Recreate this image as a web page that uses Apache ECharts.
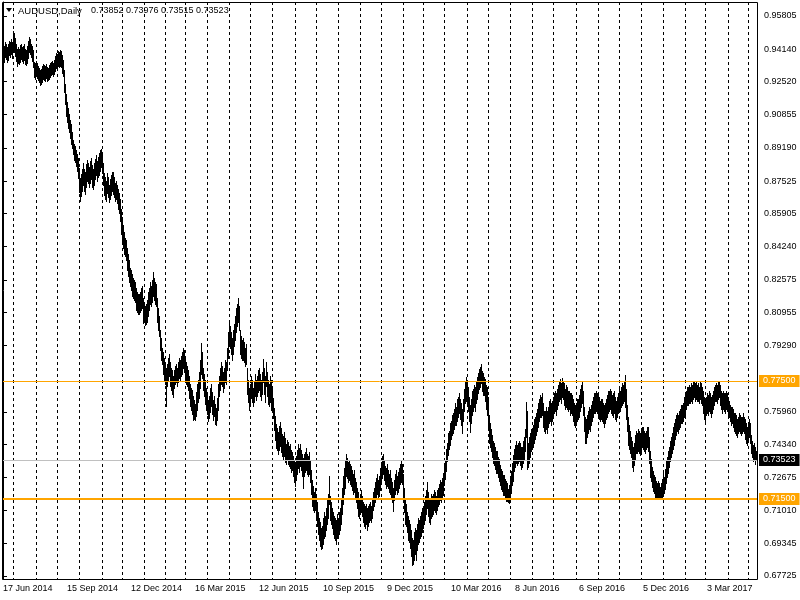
<!DOCTYPE html>
<html><head><meta charset="utf-8">
<script src="https://cdn.jsdelivr.net/npm/echarts@6/dist/echarts.min.js"></script>
<style>html,body{margin:0;padding:0;background:#fff}#c{width:800px;height:600px}</style>
</head><body><div id="c"></div>
<script>
// ---- data (prices in units of 0.0001) ----
const SYMBOL = 'AUDUSD,Daily';
const LAST_OHLC = ['0.73852', '0.73976', '0.73515', '0.73523'];
const HIGH_PIPS = [
9410,9430,9450,9440,9425,9440,9455,9450,9465,9450,
9505,9495,9470,9440,9415,9425,9415,9435,9440,9425,
9430,9440,9415,9410,9430,9455,9475,9465,9440,9430,
9410,9350,9345,9355,9345,9330,9320,9310,9315,9330,
9340,9335,9330,9340,9325,9320,9335,9345,9350,9355,
9345,9360,9380,9395,9390,9405,9400,9410,9405,9385,
9360,9310,9240,9190,9150,9120,9090,9060,9040,9000,
8960,8940,8930,8910,8890,8870,8820,8770,8790,8815,
8845,8815,8800,8840,8860,8845,8825,8855,8870,8835,
8815,8845,8865,8885,8855,8875,8895,8910,8915,8900,
8845,8795,8775,8755,8795,8775,8735,8765,8785,8800,
8800,8775,8745,8755,8735,8715,8695,8665,8615,8575,
8535,8495,8465,8455,8415,8385,8355,8315,8305,8285,
8265,8255,8245,8215,8195,8185,8185,8195,8215,8225,
8165,8145,8125,8135,8155,8195,8215,8245,8225,8255,
8295,8265,8245,8235,8165,8115,8075,8005,7965,7915,
7895,7865,7845,7815,7835,7865,7885,7845,7815,7805,
7775,7805,7825,7835,7815,7845,7865,7855,7875,7895,
7915,7905,7865,7845,7825,7805,7775,7735,7715,7705,
7675,7655,7635,7695,7735,7755,7795,7855,7940,7895,
7815,7785,7755,7715,7695,7655,7675,7715,7735,7695,
7655,7675,7635,7615,7665,7735,7775,7815,7845,7825,
7795,7815,7855,7845,7915,7995,8055,8025,7995,7965,
8005,8035,8075,8115,8135,8164,8125,8005,7975,7955,
7965,7945,7915,7935,7815,7755,7715,7735,7775,7755,
7715,7745,7785,7755,7775,7805,7815,7785,7755,7795,
7860,7815,7775,7845,7795,7755,7735,7775,7755,7715,
7665,7615,7575,7535,7515,7495,7525,7545,7515,7485,
7475,7495,7465,7435,7455,7445,7425,7435,7405,7395,
7375,7355,7345,7375,7405,7435,7415,7435,7405,7385,
7365,7385,7395,7415,7385,7375,7395,7355,7305,7255,
7225,7195,7215,7185,7145,7095,7065,7045,7015,7025,
7065,7095,7075,7115,7155,7185,7275,7175,7145,7115,
7095,7075,7065,7055,7085,7065,7095,7115,7155,7215,
7275,7315,7355,7385,7365,7345,7355,7335,7325,7305,
7285,7305,7265,7245,7215,7195,7165,7185,7205,7175,
7145,7135,7125,7135,7115,7125,7135,7145,7125,7165,
7195,7215,7245,7265,7285,7255,7275,7315,7345,7375,
7385,7355,7325,7315,7335,7305,7285,7305,7265,7245,
7215,7255,7285,7305,7275,7295,7315,7335,7355,7335,
7285,7215,7165,7135,7095,7075,7055,7035,7005,6965,
6955,6995,7015,7005,7035,7065,7055,7075,7095,7115,
7125,7145,7175,7205,7244,7195,7165,7155,7185,7175,
7185,7205,7195,7175,7205,7215,7235,7255,7245,7265,
7290,7340,7350,7410,7440,7490,7500,7540,7550,7580,
7590,7610,7640,7620,7660,7670,7690,7660,7640,7610,
7660,7710,7750,7770,7740,7720,7670,7630,7660,7700,
7710,7730,7720,7750,7770,7790,7810,7820,7835,7800,
7790,7770,7760,7730,7720,7670,7580,7540,7510,7480,
7450,7440,7420,7400,7400,7370,7360,7330,7310,7300,
7280,7280,7260,7250,7240,7210,7230,7260,7300,7340,
7380,7410,7430,7450,7430,7440,7450,7440,7420,7420,
7450,7470,7510,7645,7600,7440,7470,7490,7510,7500,
7530,7560,7570,7590,7610,7640,7660,7680,7670,7690,
7640,7600,7600,7620,7600,7620,7650,7660,7640,7650,
7670,7690,7700,7690,7710,7730,7750,7760,7740,7765,
7750,7740,7710,7730,7720,7700,7700,7690,7690,7680,
7660,7640,7630,7640,7660,7660,7680,7710,7730,7745,
7700,7620,7570,7560,7580,7600,7620,7610,7630,7650,
7670,7690,7690,7700,7690,7680,7670,7650,7660,7660,
7640,7630,7640,7660,7680,7700,7700,7710,7700,7680,
7690,7700,7670,7650,7670,7690,7710,7700,7720,7740,
7730,7750,7778,7710,7630,7570,7530,7500,7470,7450,
7420,7440,7480,7500,7490,7510,7500,7490,7500,7520,
7520,7500,7490,7500,7520,7520,7470,7400,7360,7320,
7300,7280,7270,7250,7240,7250,7240,7220,7240,7260,
7290,7270,7310,7350,7370,7400,7420,7450,7470,7490,
7520,7540,7560,7580,7590,7580,7600,7610,7630,7630,
7640,7670,7680,7700,7720,7720,7730,7720,7740,7730,
7745,7750,7740,7750,7730,7740,7720,7750,7740,7720,
7700,7670,7650,7670,7690,7680,7700,7690,7670,7680,
7700,7720,7730,7740,7730,7745,7749,7730,7700,7690,
7700,7690,7690,7700,7690,7670,7650,7630,7620,7620,
7610,7590,7590,7580,7560,7570,7590,7580,7570,7570,
7590,7570,7560,7540,7520,7530,7560,7540,7480,7450,
7430,7440,7420,7398
];
const LOW_PIPS = [
9320,9350,9375,9365,9350,9360,9385,9375,9390,9370,
9410,9400,9380,9355,9330,9345,9340,9350,9365,9355,
9345,9360,9340,9335,9345,9370,9400,9390,9375,9355,
9325,9275,9265,9285,9270,9260,9250,9235,9240,9250,
9265,9260,9255,9270,9255,9260,9265,9275,9285,9290,
9280,9290,9305,9320,9320,9330,9325,9330,9325,9295,
9280,9200,9140,9080,9050,9020,9000,8970,8940,8920,
8890,8860,8850,8830,8805,8770,8700,8655,8680,8705,
8735,8705,8690,8725,8755,8745,8725,8745,8765,8725,
8715,8735,8765,8785,8755,8775,8785,8805,8825,8795,
8735,8685,8665,8655,8695,8675,8650,8665,8685,8705,
8690,8675,8655,8665,8645,8615,8595,8555,8485,8435,
8415,8385,8375,8355,8305,8275,8245,8225,8205,8175,
8165,8155,8145,8105,8095,8085,8085,8095,8105,8115,
8040,8045,8030,8035,8045,8075,8105,8135,8125,8145,
8175,8155,8135,8125,8045,8005,7975,7905,7855,7835,
7785,7755,7735,7626,7725,7755,7775,7725,7705,7685,
7670,7715,7735,7745,7725,7745,7765,7755,7775,7785,
7815,7795,7755,7735,7725,7705,7665,7625,7605,7585,
7555,7560,7555,7575,7605,7645,7665,7715,7785,7765,
7705,7675,7635,7605,7585,7550,7565,7595,7625,7585,
7555,7575,7535,7530,7555,7605,7675,7705,7735,7725,
7695,7715,7745,7735,7805,7865,7925,7915,7885,7855,
7885,7925,7955,7995,8025,8045,8005,7885,7865,7855,
7855,7845,7825,7835,7685,7645,7605,7635,7665,7645,
7625,7645,7675,7655,7675,7695,7705,7675,7655,7685,
7745,7685,7645,7725,7675,7635,7625,7645,7605,7595,
7565,7505,7455,7415,7405,7385,7405,7425,7395,7375,
7355,7375,7345,7335,7355,7335,7325,7315,7295,7305,
7275,7245,7225,7255,7285,7315,7295,7325,7305,7275,
7215,7275,7295,7305,7285,7275,7285,7245,7185,7125,
7105,7095,7105,7065,7025,6985,6955,6925,6906,6915,
6935,6965,6975,7005,7035,7065,7135,7055,7035,7015,
6985,6965,6955,6935,6965,6975,6985,7005,7035,7085,
7135,7185,7215,7275,7265,7245,7255,7235,7225,7205,
7185,7195,7165,7145,7115,7075,7065,7085,7095,7075,
7045,7025,7015,7035,7005,7025,7045,7055,7045,7065,
7105,7125,7145,7165,7185,7165,7175,7205,7235,7265,
7285,7255,7235,7215,7225,7215,7195,7185,7165,7145,
7100,7155,7185,7205,7185,7195,7215,7235,7245,7235,
7165,7095,7035,7025,6995,6955,6945,6915,6875,6827,
6835,6855,6885,6855,6905,6935,6945,6965,6975,6995,
7015,7035,7055,7085,7115,7075,7045,7035,7065,7075,
7085,7105,7095,7085,7105,7125,7135,7155,7145,7165,
7180,7230,7260,7300,7350,7380,7410,7430,7460,7480,
7490,7510,7530,7530,7550,7570,7590,7560,7530,7490,
7550,7600,7640,7650,7640,7600,7550,7495,7540,7580,
7600,7620,7600,7640,7660,7690,7710,7720,7740,7700,
7680,7680,7650,7610,7580,7510,7440,7420,7400,7370,
7340,7330,7310,7290,7290,7270,7250,7230,7210,7200,
7180,7180,7160,7150,7150,7145,7140,7160,7190,7230,
7250,7300,7320,7340,7330,7340,7350,7330,7310,7320,
7340,7360,7400,7470,7310,7320,7340,7370,7400,7410,
7420,7440,7460,7480,7500,7520,7550,7570,7570,7580,
7520,7500,7490,7510,7490,7520,7540,7550,7530,7550,
7570,7590,7600,7580,7610,7630,7650,7660,7640,7670,
7660,7630,7610,7620,7610,7600,7610,7580,7590,7580,
7550,7530,7520,7530,7550,7560,7570,7600,7620,7640,
7580,7500,7440,7440,7470,7490,7510,7500,7530,7550,
7570,7590,7590,7600,7590,7570,7560,7550,7560,7550,
7540,7520,7540,7560,7570,7590,7600,7610,7590,7580,
7570,7590,7560,7550,7570,7590,7600,7600,7620,7630,
7640,7650,7620,7560,7500,7430,7410,7390,7370,7320,
7300,7330,7360,7390,7390,7400,7390,7380,7400,7420,
7410,7400,7390,7410,7420,7400,7340,7270,7250,7220,
7200,7190,7170,7160,7160,7170,7160,7160,7165,7170,
7180,7190,7210,7240,7270,7290,7320,7350,7370,7390,
7410,7430,7460,7480,7500,7490,7510,7520,7540,7540,
7550,7570,7580,7610,7630,7630,7640,7640,7650,7640,
7660,7670,7650,7660,7650,7650,7640,7660,7640,7630,
7590,7560,7550,7580,7590,7580,7600,7590,7570,7590,
7610,7630,7650,7650,7640,7660,7670,7630,7610,7590,
7610,7600,7590,7610,7600,7580,7570,7550,7530,7540,
7520,7500,7490,7480,7470,7490,7500,7490,7480,7490,
7500,7490,7460,7440,7430,7450,7470,7440,7390,7370,
7350,7360,7335,7352
];
const X_LABELS = ['17 Jun 2014','15 Sep 2014','12 Dec 2014','16 Mar 2015','12 Jun 2015','10 Sep 2015',
                  '9 Dec 2015','10 Mar 2016','8 Jun 2016','6 Sep 2016','5 Dec 2016','3 Mar 2017'];
const X_LABEL_IDX = [0,64,128,192,256,320,384,448,512,576,640,704];
const Y_TICKS = [0.95805,0.94140,0.92520,0.90855,0.89190,0.87525,0.85905,0.84240,0.82575,
                 0.80955,0.79290,0.75960,0.74340,0.72675,0.71010,0.69345,0.67725];
const LEVEL_PRICES = [0.77500, 0.71500];
const BID_PRICE = 0.73523;
const Y_MIN = 0.675745, Y_MAX = 0.96507;

// ---- trading calendar (weekdays, no Dec 25 / Jan 1) ----
function tradingMonths(n){
  const out=[]; const d=new Date(Date.UTC(2014,5,17));
  while(out.length<n){
    const wd=d.getUTCDay(), m=d.getUTCMonth(), dd=d.getUTCDate();
    const hol=(m===11&&dd===25)||(m===0&&dd===1);
    if(wd>0&&wd<6&&!hol) out.push(m);
    d.setUTCDate(dd+1);
  }
  return out;
}
const N = HIGH_PIPS.length;
const months = tradingMonths(N);
const MONTH_STARTS = [];
for(let i=1;i<N;i++) if(months[i]!==months[i-1]) MONTH_STARTS.push(i);

const FONT = '"Liberation Sans", Arial, sans-serif';
const LEVEL_STYLE = [
  {line:'#FFA500', w:1, bg:'#FFA500', dy:0},
  {line:'#FFA500', w:2, bg:'#FFA500', dy:-2},
  {line:'#C0C0C0', w:1, bg:'#000000', dy:0}
];

const chart = echarts.init(document.getElementById('c'), null, {renderer:'canvas'});
chart.setOption({
  animation:false,
  backgroundColor:'#fff',
  grid:{left:2, top:2, width:755, height:577, outerBoundsMode:'none', containLabel:false},
  xAxis:{type:'value', min:-1, max:754,
    axisLine:{show:false}, axisTick:{show:false}, splitLine:{show:false},
    axisLabel:{customValues:X_LABEL_IDX, formatter:v=>X_LABELS[X_LABEL_IDX.indexOf(v)]||'',
      align:'left', margin:5, fontSize:9, fontFamily:FONT, color:'#000'}},
  yAxis:{type:'value', position:'right', min:Y_MIN, max:Y_MAX, scale:true,
    axisLine:{show:true, lineStyle:{color:'#000', width:1}},
    axisTick:{show:true, customValues:Y_TICKS, length:4, lineStyle:{color:'#000'}},
    axisLabel:{customValues:Y_TICKS, formatter:v=>v.toFixed(5), margin:7, fontSize:9, fontFamily:FONT, color:'#000'},
    splitLine:{show:false}},
  graphic:[
    {type:'rect', z:100, silent:true, shape:{x:2.5, y:2.5, width:755, height:577}, style:{fill:null, stroke:'#000', lineWidth:1}},
    {type:'polygon', z:100, shape:{points:[[6,8],[12,8],[9,12]]}, style:{fill:'#000'}},
    {type:'text', z:100, x:18, y:11, style:{text:SYMBOL, font:'9.5px '+FONT, fill:'#000', verticalAlign:'middle'}},
    {type:'text', z:100, x:91, y:11, style:{text:LAST_OHLC.join(' '), font:'9px '+FONT, fill:'#000', verticalAlign:'middle'}}
  ],
  series:[
    {type:'custom', name:'grid', z:1, silent:true,
      data:MONTH_STARTS.map(i=>[i, Y_MIN]),
      renderItem:(params, api)=>{
        const cs=params.coordSys;
        const x=Math.round(api.coord([api.value(0), api.value(1)])[0])+0.5;
        return {type:'line', shape:{x1:x, y1:cs.y, x2:x, y2:cs.y+cs.height},
          style:{stroke:'#000', lineWidth:1, lineDash:[3,3]}};
      }},
    {type:'custom', name:'AUDUSD', z:2, silent:true,
      data:HIGH_PIPS.map((h,i)=>[i, h/1e4, LOW_PIPS[i]/1e4]),
      encode:{x:0, y:[1,2]},
      renderItem:(params, api)=>{
        const i=api.value(0);
        const pH=api.coord([i, api.value(1)]);
        const pL=api.coord([i, api.value(2)]);
        const x=Math.round(pH[0]);
        const y0=Math.round(pH[1]), y1=Math.round(pL[1]);
        return {type:'rect', shape:{x:x, y:y0, width:1, height:Math.max(1, y1-y0+1)}, style:{fill:'#000'}};
      }},
    {type:'custom', name:'levels', z:5, silent:true, clip:false,
      data:[...LEVEL_PRICES, BID_PRICE].map(v=>[0, v]),
      renderItem:(params, api)=>{
        const cs=params.coordSys;
        const st=LEVEL_STYLE[params.dataIndex];
        const v=api.value(1);
        const py=Math.round(api.coord([0, v])[1])+st.dy;
        const y = st.w===1 ? py+0.5 : py;
        return {type:'group', children:[
          {type:'line', shape:{x1:cs.x, y1:y, x2:cs.x+cs.width, y2:y}, style:{stroke:st.line, lineWidth:st.w}},
          {type:'text', x:cs.x+cs.width+2, y:py,
            style:{text:v.toFixed(5), font:'9px '+FONT, fill:'#fff', backgroundColor:st.bg,
              padding:[2,4,1,4], verticalAlign:'middle', align:'left'}}
        ]};
      }}
  ]
});
</script></body></html>
